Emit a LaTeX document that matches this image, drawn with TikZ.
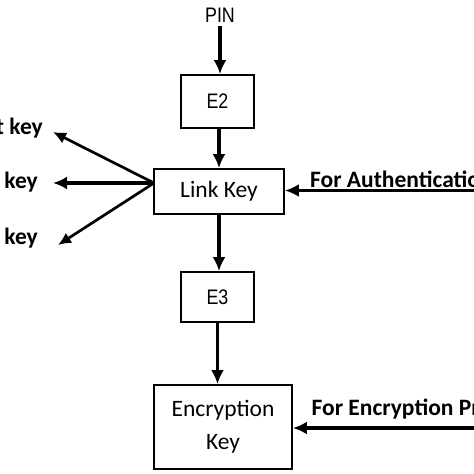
\documentclass[tikz,border=0pt]{standalone}
\usepackage{fontspec}
\setmainfont{Carlito}
\newfontfamily\arialfont[FakeStretch=0.85]{Liberation Sans}
\usepackage{tikz}
\usetikzlibrary{arrows.meta,positioning}

\begin{document}
\begin{tikzpicture}[x=1pt, y=-1pt,
    block/.style={draw, line width=1.8pt, inner sep=0pt, align=center},
    arrow/.style={-{Latex[length=14pt,width=13pt]}, line width=3.6pt},
    thinarrow/.style={-{Latex[length=13pt,width=12pt]}, line width=2.7pt},
    boxtext/.style={font=\fontsize{23.5}{33}\selectfont},
    etext/.style={font=\arialfont\fontsize{21}{24}\selectfont},
    keylabel/.style={font=\bfseries\fontsize{23.5}{26}\selectfont, inner sep=0pt}
  ]

  % Frame
  \useasboundingbox (0,0) rectangle (474,474);
  \clip (0,0) rectangle (474,474);

  % Chain
  \node[etext] (pin) at (220,15) {PIN};
  \node[block, etext, minimum width=73pt, minimum height=53pt] (e2) at (217.5,101.5) {E2};
  \node[block, boxtext, minimum width=130pt, minimum height=45pt] (link) at (219,191.5) {Link Key};
  \node[block, etext, minimum width=73pt, minimum height=50pt] (e3) at (217.5,297) {E3};
  \node[block, boxtext, minimum width=138pt, minimum height=84pt] (enc) at (223,427) {Encryption\\Key};

  % Arrows down
  \draw[arrow] (pin.south) -- (pin.south |- e2.north);
  \draw[arrow] (e2.south -| link.north) -- (link.north);
  \draw[arrow] (link.south) -- (link.south |- e3.north);
  \draw[arrow] (e3.south) -- (e3.south |- enc.north);

  % Derived keys
  \coordinate (hub) at (154,183);
  \coordinate (tip1) at (53,132);
  \coordinate (tip2) at (53,183);
  \coordinate (tip3) at (58,245);
  \node[keylabel, anchor=east] (k1) at (43,128) {t key};
  \node[keylabel, anchor=east] (k2) at (38,182) {key};
  \node[keylabel, anchor=east] (k3) at (38,238) {key};
  \draw[thinarrow] (hub) -- (tip1);
  \draw[arrow] (hub) -- (tip2);
  \draw[thinarrow] (hub) -- (tip3);

  % Inputs from the right
  \coordinate (auth) at (480,190.5);
  \coordinate (encin) at (480,428);
  \draw[arrow] (auth) -- (link.east |- auth);
  \draw[arrow] (encin) -- (enc.east |- encin);
  \node[keylabel, anchor=base west] (authtext) at (310,187.5) {For Authenticatio};
  \node[keylabel, anchor=base west] (enctext) at (311.5,415) {For Encryption Pr};

\end{tikzpicture}
\end{document}
